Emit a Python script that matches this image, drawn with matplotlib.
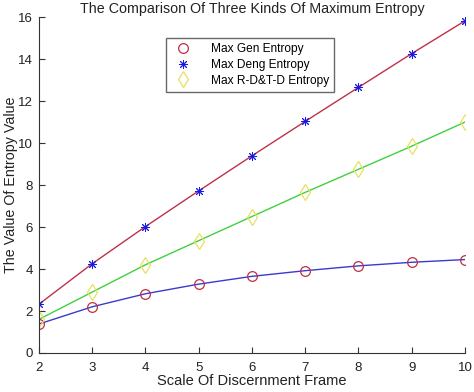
import matplotlib.pyplot as plt

plt.rcParams['font.family'] = ['Liberation Sans', 'DejaVu Sans']

# data
frame_size = [2, 3, 4, 5, 6, 7, 8, 9, 10]
gen_entropy = [1.38, 2.20, 2.82, 3.28, 3.65, 3.92, 4.15, 4.32, 4.45]
deng_entropy = [2.32, 4.25, 6.02, 7.72, 9.39, 11.03, 12.65, 14.26, 15.82]
rdtd_entropy = [1.60, 2.90, 4.20, 5.35, 6.50, 7.65, 8.75, 9.85, 11.00]

fig = plt.figure(figsize=(4.74, 3.92), dpi=100)
ax = fig.add_axes([0.082, 0.0995, 0.899, 0.857])

# lines
ax.plot(frame_size, gen_entropy, color='#3a3ad0', lw=1)
ax.plot(frame_size, deng_entropy, color='#c0304a', lw=1)
ax.plot(frame_size, rdtd_entropy, color='#40d040', lw=1)

# markers
ax.plot(frame_size, gen_entropy, 'o', ms=7, mfc='none', mec='#c03040',
        mew=0.9, label='Max Gen Entropy')
ax.plot(frame_size, deng_entropy, marker=(8, 2, 0), ls='none', ms=6.5,
        mec='#1a1ae0', mew=0.7, label='Max Deng Entropy')
ax.plot(frame_size, rdtd_entropy, 'd', ms=8, mfc='none', mec='#e8e060',
        mew=0.9, label='Max R-D&T-D Entropy')

ax.set_xlim(2, 10)
ax.set_ylim(0, 16)
ax.set_xticks(range(2, 11))
ax.set_yticks(range(0, 17, 2))
ax.spines['top'].set_visible(False)
ax.spines['right'].set_visible(False)
for s in ['left', 'bottom']:
    ax.spines[s].set_color('#333333')
ax.tick_params(direction='in', length=4, colors='#333333', labelsize=9.5,
               labelcolor='#222222')
ax.tick_params(axis='x', pad=6.5)
ax.tick_params(axis='y', pad=4.5)

ax.set_title('The Comparison Of Three Kinds Of Maximum Entropy',
             fontsize=10.3, color='#222222', pad=3)
ax.set_xlabel('Scale Of Discernment Frame', fontsize=10.5, labelpad=0,
              color='#222222')
ax.set_ylabel('The Value Of Entropy Value', fontsize=10.3, color='#222222')
ax.yaxis.set_label_coords(-0.05, 0.5)

ax.legend(loc='upper left', bbox_to_anchor=(0.298, 0.9375), fontsize=8.6,
          frameon=True, fancybox=False, edgecolor='#444444',
          borderpad=0.45, handletextpad=1.3, labelspacing=0.3,
          borderaxespad=0)

plt.savefig('out.png', dpi=100)
